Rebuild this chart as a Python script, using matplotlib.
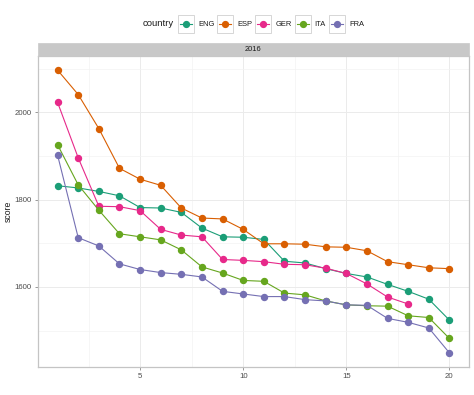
import matplotlib
matplotlib.use("Agg")
import matplotlib.pyplot as plt
from matplotlib.patches import Rectangle
from matplotlib.lines import Line2D

plt.rcParams['font.family'] = ['Liberation Sans', 'DejaVu Sans']

# data
countries = ['ENG', 'ESP', 'GER', 'ITA', 'FRA']
colors = ['#1B9E77', '#D95F02', '#E7298A', '#66A61E', '#7570B3']
year = '2016'

eng = [1832, 1827, 1819, 1809, 1782, 1781, 1771, 1735, 1715, 1714,
       1709, 1659, 1655, 1642, 1631, 1623, 1606, 1590, 1572, 1524]
esp = [2097, 2041, 1963, 1872, 1847, 1833, 1781, 1758, 1756, 1732,
       1699, 1699, 1698, 1692, 1691, 1683, 1658, 1651, 1644, 1642]
ger = [2023, 1896, 1785, 1784, 1775, 1732, 1719, 1715, 1663, 1661,
       1658, 1652, 1651, 1643, 1631, 1607, 1577, 1561]
ita = [1926, 1834, 1776, 1722, 1715, 1708, 1685, 1646, 1632, 1615,
       1613, 1586, 1582, 1568, 1559, 1557, 1556, 1534, 1530, 1482]
fra = [1902, 1713, 1694, 1653, 1640, 1633, 1629, 1623, 1590, 1584,
       1578, 1578, 1571, 1568, 1559, 1558, 1528, 1519, 1506, 1449]
scores = [eng, esp, ger, ita, fra]

W, H = 474, 395
fig = plt.figure(figsize=(W / 100, H / 100), dpi=100)


def px(x, y):
    # pixel position (from top-left) -> figure fraction
    return x / W, 1 - y / H


left, right, top, bottom = 38, 469, 56, 367
ax = fig.add_axes([left / W, 1 - bottom / H, (right - left) / W, (bottom - top) / H])

for name, col, s in zip(countries, colors, scores):
    rank = list(range(1, len(s) + 1))
    ax.plot(rank, s, color=col, lw=0.8, marker='o', ms=4.3, mec=col, label=name, zorder=3)

allv = [v for s in scores for v in s]
lo, hi = min(allv), max(allv)
pad = (hi - lo) * 0.05
ax.set_ylim(lo - pad, hi + pad)
ax.set_xlim(1 - 19 * 0.05, 20 + 19 * 0.05)

ax.set_xticks([5, 10, 15, 20])
ax.set_xticks([2.5, 7.5, 12.5, 17.5], minor=True)
ax.set_yticks([1600, 1800, 2000])
ax.set_yticks([1500, 1700, 1900, 2100], minor=True)
ax.grid(which='major', color='#EBEBEB', lw=0.7)
ax.grid(which='minor', color='#F3F3F3', lw=0.5)
ax.set_axisbelow(True)
ax.tick_params(which='major', length=2.5, width=0.6, color='#888888',
               labelsize=5.6, labelcolor='#4D4D4D', pad=2)
ax.tick_params(which='minor', length=0)
for sp in ax.spines.values():
    sp.set_color('#C4C4C4')
    sp.set_linewidth(0.9)
ax.set_ylabel('score', fontsize=6.2, color='#1A1A1A', labelpad=1)

# facet strip
strip = Rectangle((left / W, 1 - top / H), (right - left) / W, 13 / H,
                  transform=fig.transFigure, facecolor='#C8C8C8',
                  edgecolor='#C8C8C8', lw=0.5)
fig.patches.append(strip)
fig.text((left + right) / 2 / W, 1 - 49.5 / H, year, ha='center', va='center',
         fontsize=5.4, color='#1A1A1A')

# legend along the top
fig.text(*px(143, 24), 'country', ha='left', va='center', fontsize=6.8, color='#1A1A1A')
renderer = fig.canvas.get_renderer()
x = 178
for name, col in zip(countries, colors):
    fig.patches.append(Rectangle(px(x, 33), 16 / W, 18 / H, transform=fig.transFigure,
                                 facecolor='white', edgecolor='#D0D0D0', lw=0.6))
    fig.lines.append(Line2D([(x + 2) / W, (x + 14) / W], [1 - 24 / H] * 2,
                            transform=fig.transFigure, color=col, lw=0.8))
    fig.lines.append(Line2D([(x + 8) / W], [1 - 24 / H], transform=fig.transFigure,
                            color=col, marker='o', ms=4.2, mec=col))
    t = fig.text(*px(x + 20, 24), name, ha='left', va='center', fontsize=5.4, color='#1A1A1A')
    bb = t.get_window_extent(renderer)
    x = bb.x1 + 3

fig.savefig('out.png', dpi=100)
